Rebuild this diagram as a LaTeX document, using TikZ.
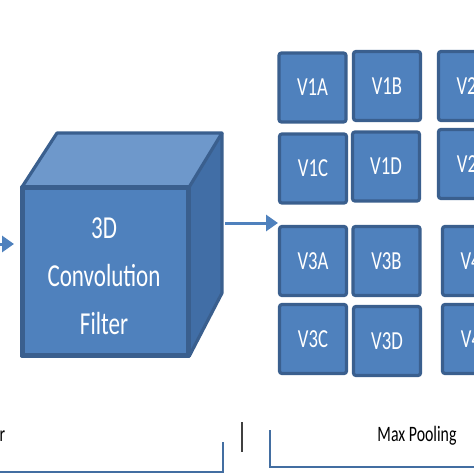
\documentclass[tikz,border=0pt]{standalone}
\usepackage{fontspec}
\setmainfont{Carlito}
\usetikzlibrary{arrows.meta}
\definecolor{fblue}{HTML}{4F81BD}
\definecolor{dblue}{HTML}{3A5F8E}
\definecolor{tblue}{HTML}{6E98CB}
\definecolor{rblue}{HTML}{416EA6}
\newcommand{\nar}[1]{\scalebox{0.72}[1]{#1}}
\tikzset{
  sq/.style={draw=dblue, fill=fblue, line width=3.2pt, rounded corners=2.5pt,
    minimum width=67pt, minimum height=69pt, inner sep=0pt, text=white,
    font=\fontsize{26}{26}\selectfont},
  face/.style={draw=dblue, line width=3.2pt, line join=round},
  arr/.style={draw=fblue, line width=3pt, -{Triangle[length=12pt,width=16pt]}},
  brk/.style={draw=fblue!85!black, line width=1.6pt},
}
\begin{document}
\begin{tikzpicture}[x=1pt,y=-1pt]
\useasboundingbox (0,0) rectangle (474,474);
% cube
\node[face, fill=fblue, minimum width=164pt, minimum height=166pt, inner sep=0pt, anchor=north west] (front) at (22,187) {};
\coordinate (tl) at (57,133);
\coordinate (tr) at (222,133);
\coordinate (br) at (222,293);
\fill[tblue] (front.north west) -- (tl) -- (tr) -- (front.north east) -- cycle;
\fill[rblue] (front.north east) -- (tr) -- (br) -- (front.south east) -- cycle;
\draw[face] (front.north west) -- (tl) -- (tr) -- (front.north east);
\draw[face] (tr) -- (br) -- (front.south east);
\draw[face] (front.north west) rectangle (front.south east);
\node[text=white, font=\fontsize{32}{48}\selectfont, align=center] (lbl) at (104,276)
  {\nar{3D}\\ \nar{Convolution}\\ \nar{Filter}};
% arrows
\coordinate (lin) at (-5,244);
\coordinate (lend) at (14,244);
\draw[arr] (lin) -- (lend);
\coordinate (rin) at (225,223);
\coordinate (rend) at (278,223);
\draw[arr] (rin) -- (rend);
% squares
\node[sq] (v1a) at (312.5,87.5) {\nar{V1A}};
\node[sq] (v1b) at (387,86) {\nar{V1B}};
\node[sq] (v2a) at (472,86) {\nar{V2A}};
\node[sq] (v1c) at (313,168.5) {\nar{V1C}};
\node[sq] (v1d) at (386,166.5) {\nar{V1D}};
\node[sq] (v2c) at (472,164) {\nar{V2C}};
\node[sq] (v3a) at (313,261) {\nar{V3A}};
\node[sq] (v3b) at (386.5,261) {\nar{V3B}};
\node[sq] (v4a) at (476,261) {\nar{V4A}};
\node[sq] (v3c) at (313,339) {\nar{V3C}};
\node[sq] (v3d) at (387,341) {\nar{V3D}};
\node[sq] (v4c) at (476,339) {\nar{V4C}};
% bottom
\node[font=\fontsize{22}{22}\selectfont, anchor=west] (rtxt) at (-4,436) {\nar{r}};
\node[font=\fontsize{22}{22}\selectfont] (mp) at (417,436) {\nar{Max Pooling}};
\coordinate (b1a) at (0,472);
\coordinate (b1b) at (223,472);
\coordinate (b1c) at (223,442);
\draw[brk] (b1a) -- (b1b) -- (b1c);
\coordinate (sa) at (242,422);
\coordinate (sb) at (242,452);
\draw[line width=1.2pt, black!75] (sa) -- (sb);
\coordinate (b2a) at (270,430);
\coordinate (b2b) at (270,467);
\coordinate (b2c) at (480,467);
\draw[brk] (b2a) -- (b2b) -- (b2c);
\end{tikzpicture}
\end{document}
